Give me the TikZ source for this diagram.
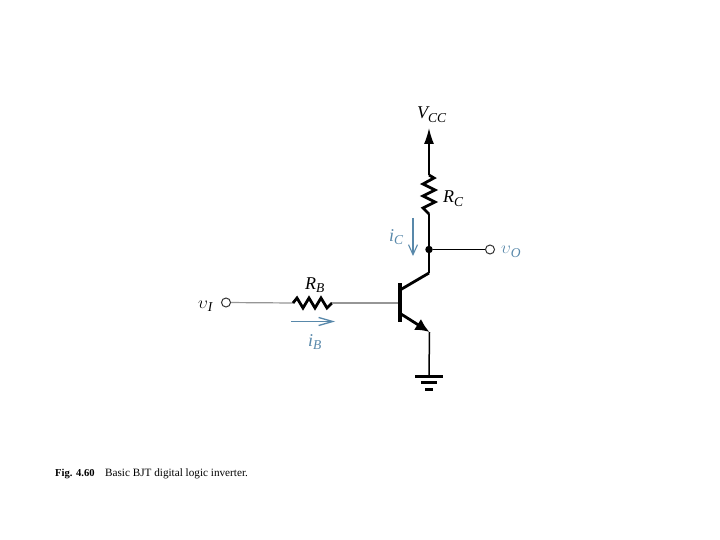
\documentclass[tikz,border=0pt]{standalone}
\usepackage{fontspec}
\setmainfont{Liberation Serif}
\usetikzlibrary{arrows.meta}
\definecolor{cblue}{RGB}{88,136,170}
\definecolor{wiregray}{RGB}{150,150,150}
\tikzset{
  wire/.style={line width=1.5pt,black},
  thinwire/.style={line width=1.2pt,wiregray},
  term/.style={circle,draw=black!80,fill=white,line width=1pt,minimum size=9pt,inner sep=0pt},
  jdot/.style={circle,fill=black,minimum size=7.5pt,inner sep=0pt},
  res/.style={line width=2.8pt,black,line join=miter},
  lab/.style={inner sep=0pt,font=\fontsize{18}{18}\selectfont\itshape},
  bluelab/.style={lab,text=cblue}
}
\newcommand{\subs}[1]{\raisebox{-3.5pt}{\fontsize{13.5}{13.5}\selectfont #1}}
\begin{document}
\begin{tikzpicture}[x=1pt,y=-1pt]
\useasboundingbox (0,0) rectangle (720,540);
\fill[white] (0,0) rectangle (720,540);
% named points
\coordinate (vcc) at (429,128);
\coordinate (rct) at (429,175);
\coordinate (rcb) at (429,214);
\node[jdot] (j) at (429,249.5) {};
\coordinate (ctop) at (429,273);
\coordinate (cbase) at (400,290);
\coordinate (ebase) at (401,314);
\coordinate (etip) at (429.5,332);
\coordinate (gnd) at (429,376);
\coordinate (rbl) at (293,303);
\coordinate (rbr) at (332,303);
\coordinate (bb) at (400,303);
\node[term] (vo) at (490,249.5) {};
\node[term] (vi) at (226,302.5) {};
% Vcc rail
\draw[wire,-{Latex[length=16pt,width=10pt]}] (rct) -- (vcc);
\draw[res] (rct) -- (434,178) -- (423,184) -- (435,190) -- (423,196) -- (435,202) -- (423,208) -- (rcb);
\draw[wire] (rcb) -- (j);
\draw[wire] (j) -- (ctop);
\draw[wire] (j) -- (vo);
% base
\draw[thinwire] (vi) -- (rbl);
\draw[res] (rbl) -- (297,298) -- (303,308) -- (309,298) -- (315,308) -- (321,298) -- (327,308) -- (rbr);
\draw[thinwire] (rbr) -- (bb);
% transistor
\draw[line width=3.4pt] (400,283) -- (400,322);
\draw[line width=2.8pt] (cbase) -- (ctop);
\draw[line width=2.8pt,-{Latex[length=14pt,width=13pt]}] (ebase) -- (etip);
\draw[wire] (etip) -- (gnd);
% ground
\draw[line width=3pt] (415,376) -- (443,376);
\draw[line width=3pt] (421,382.5) -- (437,382.5);
\draw[line width=3pt] (425,389) -- (433,389);
% currents
\coordinate (icA) at (413,218);
\coordinate (icB) at (413,256);
\coordinate (ibA) at (291,321.5);
\coordinate (ibB) at (335,321.5);
\draw[cblue,line width=1.1pt,-{Straight Barb[length=10pt,width=9pt]}] (icA) -- (icB);
\draw[cblue,line width=1.3pt,-{Straight Barb[length=14pt,width=8pt]}] (ibA) -- (ibB);
% labels
\node[lab,anchor=base west] (lvcc) at (417,119) {V\subs{CC}};
\node[lab,anchor=base west] (lrc) at (443,203) {R\subs{C}};
\node[lab,anchor=base west] (lrb) at (305,289) {R\subs{B}};
\node[lab,anchor=base west,text=black] (lvi) at (198,308) {$\upsilon$\subs{I}};
\node[bluelab,anchor=base west] (lvo) at (501,254) {$\upsilon$\subs{O}};
\node[bluelab,anchor=base west] (lic) at (389,241) {i\subs{C}};
\node[bluelab,anchor=base west] (lib) at (308,346) {i\subs{B}};
% caption
\node[anchor=base west,inner sep=0pt] (cap) at (55,476) {\fontsize{10.6}{11}\selectfont\textbf{Fig. 4.60}\hspace{10.5pt}\fontsize{11.2}{11}\selectfont Basic BJT digital logic inverter.};
\end{tikzpicture}
\end{document}
